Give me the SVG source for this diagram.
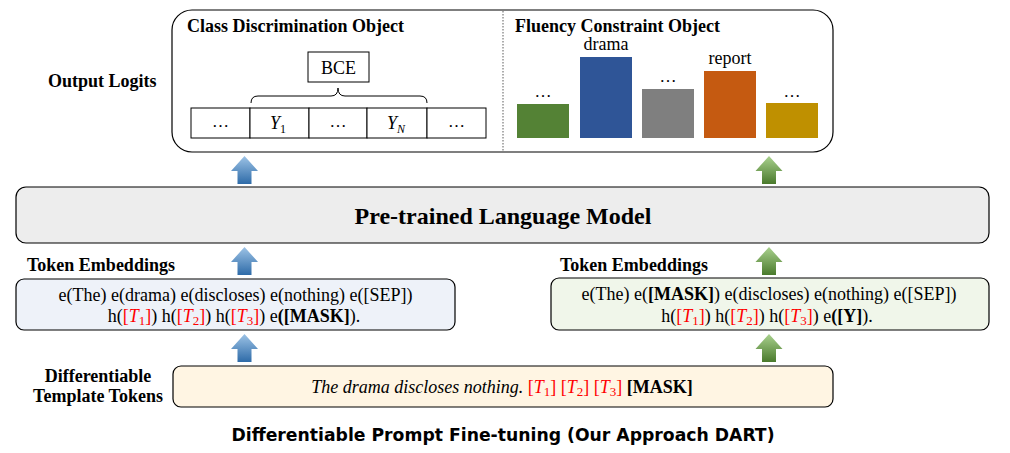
<svg xmlns="http://www.w3.org/2000/svg" width="1010" height="453" viewBox="0 0 1010 453">
<style>
.t{font-family:"Liberation Serif","Times New Roman",serif;fill:#000}
.b{font-weight:bold}
.lbl{font-family:"Liberation Serif","Times New Roman",serif;font-weight:bold;font-size:18px;fill:#000}
.emb{font-family:"Liberation Serif","Times New Roman",serif;font-size:18px;fill:#000}
.red{fill:#FF0000}
.box{stroke:#000;stroke-width:1.2}
.cell{fill:#fff;stroke:#000;stroke-width:1}
</style>
<defs>
<linearGradient id="gb" x1="0" y1="0" x2="0" y2="1"><stop offset="0" stop-color="#9DC3E6"/><stop offset="1" stop-color="#2E6BA8"/></linearGradient>
<linearGradient id="gg" x1="0" y1="0" x2="0" y2="1"><stop offset="0" stop-color="#A9D18E"/><stop offset="1" stop-color="#4A7A2C"/></linearGradient>
<path id="arr" d="M0,0 L13.5,15 L7,15 L7,28 L-7,28 L-7,15 L-13.5,15 Z"/>
</defs>

<g id="output-logits-label"><text class="lbl" x="48" y="87">Output Logits</text></g>

<g id="objective-box">
<rect x="172" y="10" width="661" height="142" rx="20" fill="#fff" class="box"/>
<line x1="503" y1="11" x2="503" y2="151" stroke="#777" stroke-width="1.2" stroke-dasharray="1.5,1.5"/>
</g>

<g id="class-discrimination">
<text class="lbl" x="187" y="32">Class Discrimination Object</text>
<rect x="308" y="52" width="61" height="30" class="cell"/>
<text class="t" x="338.5" y="74" font-size="18" text-anchor="middle">BCE</text>
<path d="M251,103 Q251,96 258,96 L331,96 Q338,96 338,88 Q338,96 345,96 L420,96 Q427,96 427,103" fill="none" stroke="#000" stroke-width="1"/>
<rect x="191" y="108" width="59" height="30" class="cell"/>
<rect x="250" y="108" width="59" height="30" class="cell"/>
<rect x="309" y="108" width="58" height="30" class="cell"/>
<rect x="367" y="108" width="60" height="30" class="cell"/>
<rect x="427" y="108" width="59" height="30" class="cell"/>
<text class="t" x="220.5" y="127" font-size="17" text-anchor="middle">…</text>
<text class="t" x="278" y="129" font-size="18" text-anchor="middle" font-style="italic">Y<tspan font-size="12" dy="4" font-style="normal">1</tspan></text>
<text class="t" x="338" y="127" font-size="17" text-anchor="middle">…</text>
<text class="t" x="396" y="129" font-size="18" text-anchor="middle" font-style="italic">Y<tspan font-size="12" dy="4">N</tspan></text>
<text class="t" x="456.5" y="127" font-size="17" text-anchor="middle">…</text>
</g>

<g id="fluency-constraint">
<text class="lbl" x="515" y="32">Fluency Constraint Object</text>
<rect x="517" y="104" width="52" height="34" fill="#548235"/>
<rect x="580" y="57" width="52" height="81" fill="#2F5597"/>
<rect x="642" y="89" width="52" height="49" fill="#7F7F7F"/>
<rect x="704" y="71" width="52" height="67" fill="#C55A11"/>
<rect x="766" y="103" width="52" height="35" fill="#BF9000"/>
<text class="t" x="543" y="97" font-size="17" text-anchor="middle">…</text>
<text class="t" x="606" y="50" font-size="18" text-anchor="middle">drama</text>
<text class="t" x="668" y="82" font-size="17" text-anchor="middle">…</text>
<text class="t" x="730" y="64" font-size="18" text-anchor="middle">report</text>
<text class="t" x="792" y="97" font-size="17" text-anchor="middle">…</text>
</g>

<g id="connectors">
<use href="#arr" x="244.5" y="156" fill="url(#gb)"/>
<use href="#arr" x="769" y="156" fill="url(#gg)"/>
<use href="#arr" x="244.5" y="247" fill="url(#gb)"/>
<use href="#arr" x="769" y="247" fill="url(#gg)"/>
<use href="#arr" x="244.5" y="334" fill="url(#gb)"/>
<use href="#arr" x="769" y="334" fill="url(#gg)"/>
</g>

<g id="language-model">
<rect x="16" y="187" width="973" height="56" rx="10" fill="#EDEDED" class="box"/>
<text class="t b" x="503" y="224" font-size="24" text-anchor="middle">Pre-trained Language Model</text>
</g>

<g id="token-embeddings-left">
<text class="lbl" x="27" y="271">Token Embeddings</text>
<rect x="16" y="279" width="439" height="51" rx="8" fill="#EEF2F9" class="box"/>
<text class="emb" x="235.5" y="301" text-anchor="middle">e(The) e(drama) e(discloses) e(nothing) e([SEP])</text>
<text class="emb" x="234" y="322" text-anchor="middle">h(<tspan class="red">[<tspan font-style="italic">T</tspan><tspan font-size="13" dy="3">1</tspan><tspan dy="-3">]</tspan></tspan>) h(<tspan class="red">[<tspan font-style="italic">T</tspan><tspan font-size="13" dy="3">2</tspan><tspan dy="-3">]</tspan></tspan>) h(<tspan class="red">[<tspan font-style="italic">T</tspan><tspan font-size="13" dy="3">3</tspan><tspan dy="-3">]</tspan></tspan>) e<tspan font-weight="bold">([MASK]</tspan>).</text>
</g>

<g id="token-embeddings-right">
<text class="lbl" x="560" y="271">Token Embeddings</text>
<rect x="551" y="278" width="438" height="52" rx="8" fill="#F0F6EA" class="box"/>
<text class="emb" x="769" y="300" text-anchor="middle">e(The) e(<tspan font-weight="bold">[MASK]</tspan>) e(discloses) e(nothing) e([SEP])</text>
<text class="emb" x="767" y="322" text-anchor="middle">h(<tspan class="red">[<tspan font-style="italic">T</tspan><tspan font-size="13" dy="3">1</tspan><tspan dy="-3">]</tspan></tspan>) h(<tspan class="red">[<tspan font-style="italic">T</tspan><tspan font-size="13" dy="3">2</tspan><tspan dy="-3">]</tspan></tspan>) h(<tspan class="red">[<tspan font-style="italic">T</tspan><tspan font-size="13" dy="3">3</tspan><tspan dy="-3">]</tspan></tspan>) e<tspan font-weight="bold">([Y]</tspan>).</text>
</g>

<g id="template-tokens">
<text class="lbl" x="98" y="382" text-anchor="middle">Differentiable</text>
<text class="lbl" x="98" y="402" text-anchor="middle">Template Tokens</text>
<rect x="173" y="366" width="660" height="41" rx="8" fill="#FFF5E3" class="box"/>
<text class="emb" x="502" y="393" text-anchor="middle"><tspan font-style="italic">The drama discloses nothing.</tspan> <tspan class="red">[<tspan font-style="italic">T</tspan><tspan font-size="13" dy="3">1</tspan><tspan dy="-3">]</tspan> [<tspan font-style="italic">T</tspan><tspan font-size="13" dy="3">2</tspan><tspan dy="-3">]</tspan> [<tspan font-style="italic">T</tspan><tspan font-size="13" dy="3">3</tspan><tspan dy="-3">]</tspan></tspan> <tspan font-weight="bold">[MASK]</tspan></text>
</g>

<g id="caption">
<text x="503" y="441" text-anchor="middle" font-family="'DejaVu Sans',sans-serif" font-weight="bold" font-size="18" textLength="543" lengthAdjust="spacingAndGlyphs">Differentiable Prompt Fine-tuning (Our Approach DART)</text>
</g>
</svg>
